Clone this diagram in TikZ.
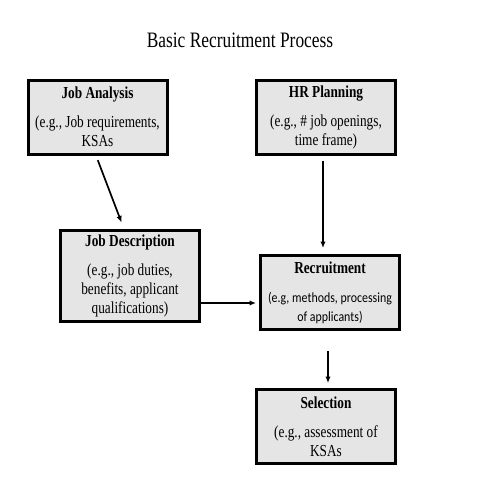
\documentclass[tikz,border=0pt]{standalone}
\usepackage{fontspec}
\setmainfont{Liberation Serif}[FakeStretch=0.79]
\newfontfamily\sanscond{Carlito}[FakeStretch=0.85]
\usetikzlibrary{arrows.meta}
\tikzset{>={Latex[length=6.5pt,width=5.5pt]}}
\tikzset{
  stagebox/.style={draw=black, line width=3pt, fill=gray!20, align=center,
    minimum width=139pt, minimum height=74pt, inner sep=0pt,
    font=\fontsize{16.8}{19}\selectfont},
  flow/.style={->, line width=1.7pt}
}

\begin{document}
\begin{tikzpicture}[x=1pt,y=-1pt]
\useasboundingbox[fill=white] (0,0) rectangle (480,480);
\node (title) at (240,40) {\fontsize{22}{24}\selectfont Basic Recruitment Process};
\node[stagebox] (ja) at (97.5,117) {\textbf{Job Analysis}\\[10pt](e.g., Job requirements,\\KSAs};
\node[stagebox] (hr) at (326,117) {\textbf{HR Planning}\\[10pt](e.g., \# job openings,\\time frame)};
\node[stagebox,minimum height=91pt] (jd) at (130,276) {\textbf{Job Description}\\[10pt](e.g., job duties,\\benefits, applicant\\qualifications)};
\node[stagebox] (rec) at (330,292.5) {\textbf{Recruitment}\\[10pt]{\sanscond\fontsize{14}{19}\selectfont (e.g, methods, processing}\\{\sanscond\fontsize{14}{19}\selectfont of applicants)}};
\node[stagebox] (sel) at (326,426.5) {\textbf{Selection}\\[10pt](e.g., assessment of\\KSAs};
\coordinate (jdout) at ([yshift=-27pt]jd.east);
\draw[flow,shorten <=5pt,shorten >=7pt] ([xshift=-1.5pt]ja.south) -- ([xshift=-6pt]jd.north);
\draw[flow,shorten <=5pt,shorten >=6pt] ([xshift=-3pt]hr.south) -- ([xshift=-3pt]hr.south |- rec.north);
\draw[flow,shorten >=3pt] (jdout) -- (rec.west |- jdout);
\draw[flow,shorten <=20pt,shorten >=5pt] ([xshift=-2pt]rec.south) -- ([xshift=-2pt]rec.south |- sel.north);
\end{tikzpicture}
\end{document}
